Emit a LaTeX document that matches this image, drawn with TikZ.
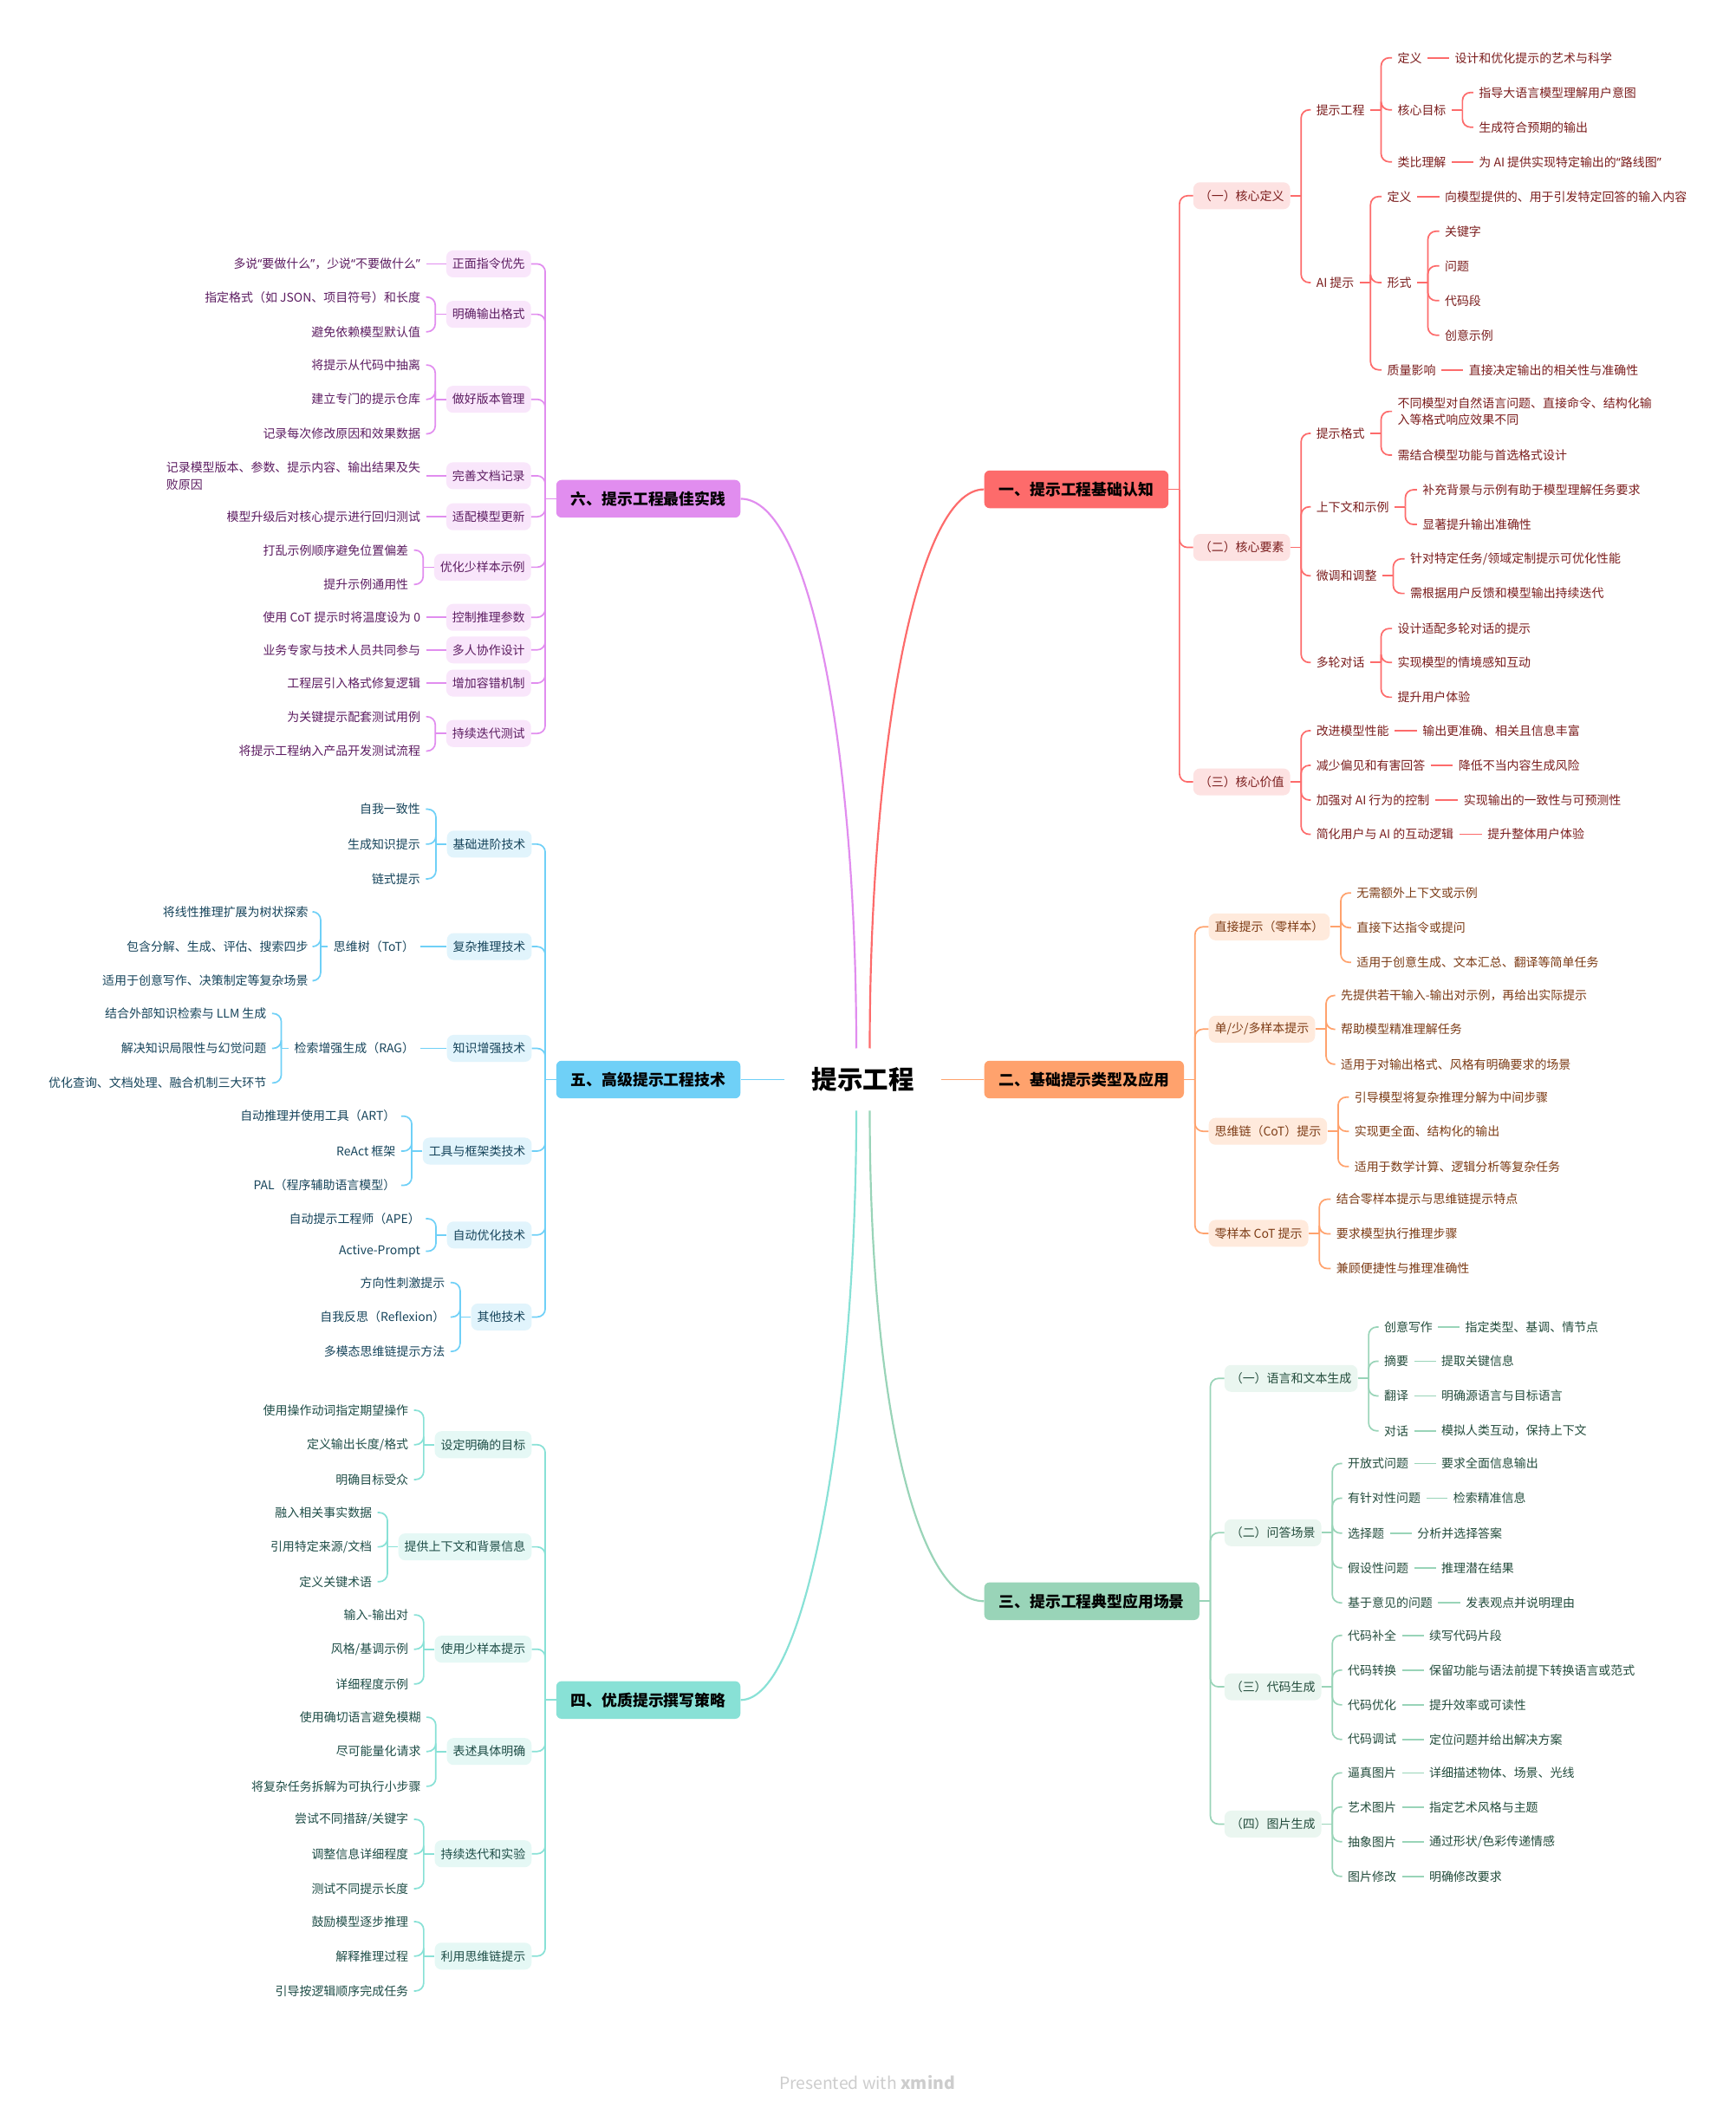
\documentclass[tikz,border=0pt]{standalone}
\usepackage{fontspec}
\setmainfont{Noto Sans CJK SC}
\newfontfamily\lat{Noto Sans}
\definecolor{c1}{HTML}{FD6B6B}\definecolor{c1l}{HTML}{FDE2E2}\definecolor{c1t}{HTML}{7B1D1D}
\definecolor{c2}{HTML}{FFA26D}\definecolor{c2l}{HTML}{FFEADC}\definecolor{c2t}{HTML}{7C3B15}
\definecolor{c3}{HTML}{99D4B8}\definecolor{c3l}{HTML}{EAF6F0}\definecolor{c3t}{HTML}{234C3C}
\definecolor{c4}{HTML}{88E1D6}\definecolor{c4l}{HTML}{E5F8F5}\definecolor{c4t}{HTML}{1E4D47}
\definecolor{c5}{HTML}{6FD0F7}\definecolor{c5l}{HTML}{E1F4FC}\definecolor{c5t}{HTML}{16445B}
\definecolor{c6}{HTML}{E18DEF}\definecolor{c6l}{HTML}{F9E6FB}\definecolor{c6t}{HTML}{5C1C61}
\definecolor{foot}{HTML}{CDCDCD}
\newcommand\fs{\fontsize{9}{11}\selectfont}
\newcommand\oq{{\lat “}}
\newcommand\cq{{\lat ”}}
\newcommand\kidsR[4][8]{%
  \draw[#2] (#3.east) -- ++(#1,0) coordinate (#3-sp);
  \foreach \kk in {#4}{\draw[#2,rounded corners=6pt] (#3-sp) |- (\kk.west);}}
\newcommand\kidsL[4][8]{%
  \draw[#2] (#3.west) -- ++(-#1,0) coordinate (#3-sp);
  \foreach \kk in {#4}{\draw[#2,rounded corners=6pt] (#3-sp) |- (\kk.east);}}
\newcommand\oneR[3]{\draw[#1] (#2.east) -- (#3.west);}
\newcommand\oneL[3]{\draw[#1] (#2.west) -- (#3.east);}
\begin{document}
\begin{tikzpicture}[x=1pt,y=-1pt,
  lf/.style={font=\fs, inner xsep=4pt, inner ysep=1.5pt},
  pr/.style={lf,anchor=west,xshift=-4pt},
  pl/.style={lf,anchor=east,xshift=4pt},
  l2/.style={font=\fs, rounded corners=5pt, inner xsep=4.5pt, inner ysep=0pt, minimum height=20pt},
  mb/.style={font=\fontsize{11.5}{13}\selectfont\bfseries, rounded corners=4pt, inner xsep=11pt, inner ysep=0pt, minimum height=28pt, text=black},
  two/.style={align=left, font=\fontsize{9}{12.7}\selectfont},
  t1/.style={text=c1t}, f1/.style={fill=c1l,text=c1t}, k1/.style={draw=c1,line width=1.1pt},
  t2/.style={text=c2t}, f2/.style={fill=c2l,text=c2t}, k2/.style={draw=c2,line width=1.1pt},
  t3/.style={text=c3t}, f3/.style={fill=c3l,text=c3t}, k3/.style={draw=c3,line width=1.1pt},
  t4/.style={text=c4t}, f4/.style={fill=c4l,text=c4t}, k4/.style={draw=c4,line width=1.1pt},
  t5/.style={text=c5t}, f5/.style={fill=c5l,text=c5t}, k5/.style={draw=c5,line width=1.1pt},
  t6/.style={text=c6t}, f6/.style={fill=c6l,text=c6t}, k6/.style={draw=c6,line width=1.1pt},
  main/.style={line width=1.4pt}]
\useasboundingbox[fill=white] (0,0) rectangle (1291,1568);

% ---------------- center and main branches
\node[font=\fontsize{19}{22}\selectfont\bfseries, minimum width=116pt, minimum height=46pt, inner sep=0pt] (root) at (642,803) {提示工程};
\node[mb,fill=c1,anchor=west] (b1) at (732,364) {一、提示工程基础认知};
\node[mb,fill=c2,anchor=west] (b2) at (732,803) {二、基础提示类型及应用};
\node[mb,fill=c3,anchor=west] (b3) at (732,1191) {三、提示工程典型应用场景};
\node[mb,fill=c4,anchor=east] (b4) at (551,1264.5) {四、优质提示撰写策略};
\node[mb,fill=c5,anchor=east] (b5) at (551,803) {五、高级提示工程技术};
\node[mb,fill=c6,anchor=east] (b6) at (551,371) {六、提示工程最佳实践};
\draw[main,c1] ([xshift=5pt]root.north) .. controls +(0,-220) and +(-51,0) .. (b1.west);
\draw[main,c6] ([xshift=-5pt]root.north) .. controls +(0,-220) and +(52,0) .. (b6.east);
\draw[main,c3] ([xshift=5pt]root.south) .. controls +(0,210) and +(-52,0) .. (b3.west);
\draw[main,c4] ([xshift=-5pt]root.south) .. controls +(0,225) and +(49,0) .. (b4.east);
\draw[main,c2,line width=1.1pt] (root.east) -- (b2.west);
\draw[main,c5,line width=1.1pt] (root.west) -- (b5.east);

% ---------------- branch 1
\node[l2,f1,anchor=west] (a1) at (887.5,145.6) {（一）核心定义};
\node[l2,f1,anchor=west] (a2) at (887.5,407.2) {（二）核心要素};
\node[l2,f1,anchor=west] (a3) at (887.5,581.6) {（三）核心价值};
\kidsR{k1}{b1}{a1,a2,a3}
\node[pr,t1] (a11) at (979,81.7) {提示工程};
\node[pr,t1] (a12) at (979,210.2) {AI 提示};
\kidsR{k1}{a1}{a11,a12}
\node[pr,t1] (a111) at (1039.5,43) {定义};
\node[pr,t1] (a112) at (1039.5,81.7) {核心目标};
\node[pr,t1] (a113) at (1039.5,120.4) {类比理解};
\kidsR{k1}{a11}{a111,a112,a113}
\node[pr,t1] (a1111) at (1082,43) {设计和优化提示的艺术与科学};
\oneR{k1}{a111}{a1111}
\node[pr,t1] (a1121) at (1100,68.8) {指导大语言模型理解用户意图};
\node[pr,t1] (a1122) at (1100,94.6) {生成符合预期的输出};
\kidsR{k1}{a112}{a1121,a1122}
\node[pr,t1] (a1131) at (1100,120.4) {为 AI 提供实现特定输出的\oq 路线图\cq};
\oneR{k1}{a113}{a1131}
\node[pr,t1] (a121) at (1031.8,146.2) {定义};
\node[pr,t1] (a122) at (1031.8,210.2) {形式};
\node[pr,t1] (a123) at (1031.8,275.1) {质量影响};
\kidsR{k1}{a12}{a121,a122,a123}
\node[pr,t1] (a1211) at (1074.6,146.2) {向模型提供的、用于引发特定回答的输入内容};
\oneR{k1}{a121}{a1211}
\node[pr,t1] (a1221) at (1074.6,172) {关键字};
\node[pr,t1] (a1222) at (1074.6,197.8) {问题};
\node[pr,t1] (a1223) at (1074.6,223.6) {代码段};
\node[pr,t1] (a1224) at (1074.6,249.3) {创意示例};
\kidsR{k1}{a122}{a1221,a1222,a1223,a1224}
\node[pr,t1] (a1231) at (1092.5,275.1) {直接决定输出的相关性与准确性};
\oneR{k1}{a123}{a1231}
\node[pr,t1] (a21) at (979,322.4) {提示格式};
\node[pr,t1] (a22) at (979,377) {上下文和示例};
\node[pr,t1] (a23) at (979,428.3) {微调和调整};
\node[pr,t1] (a24) at (979,492.8) {多轮对话};
\kidsR{k1}{a2}{a21,a22,a23,a24}
\node[pr,t1,two] (a211) at (1039.5,306) {不同模型对自然语言问题、直接命令、结构化输\\入等格式响应效果不同};
\node[pr,t1] (a212) at (1039.5,338.5) {需结合模型功能与首选格式设计};
\kidsR{k1}{a21}{a211,a212}
\node[pr,t1] (a221) at (1058,364.3) {补充背景与示例有助于模型理解任务要求};
\node[pr,t1] (a222) at (1058,390.1) {显著提升输出准确性};
\kidsR{k1}{a22}{a221,a222}
\node[pr,t1] (a231) at (1048.9,415.7) {针对特定任务/领域定制提示可优化性能};
\node[pr,t1] (a232) at (1048.9,441.4) {需根据用户反馈和模型输出持续迭代};
\kidsR{k1}{a23}{a231,a232}
\node[pr,t1] (a241) at (1039.5,467.5) {设计适配多轮对话的提示};
\node[pr,t1] (a242) at (1039.5,492.8) {实现模型的情境感知互动};
\node[pr,t1] (a243) at (1039.5,518.6) {提升用户体验};
\kidsR{k1}{a24}{a241,a242,a243}
\node[pr,t1] (a31) at (979,543.5) {改进模型性能};
\node[pr,t1] (a32) at (979,569.3) {减少偏见和有害回答};
\node[pr,t1] (a33) at (979,595.1) {加强对 AI 行为的控制};
\node[pr,t1] (a34) at (979,620.6) {简化用户与 AI 的互动逻辑};
\kidsR{k1}{a3}{a31,a32,a33,a34}
\node[pr,t1] (a311) at (1058,543.5) {输出更准确、相关且信息丰富};
\node[pr,t1] (a321) at (1084.8,569.3) {降低不当内容生成风险};
\node[pr,t1] (a331) at (1088.7,595.1) {实现输出的一致性与可预测性};
\node[pr,t1] (a341) at (1106.4,620.6) {提升整体用户体验};
\oneR{k1}{a31}{a311}\oneR{k1}{a32}{a321}\oneR{k1}{a33}{a331}\oneR{k1}{a34}{a341}

% ---------------- branch 2
\node[l2,f2,anchor=west] (d1) at (899,689.4) {直接提示（零样本）};
\node[l2,f2,anchor=west] (d2) at (899,765.5) {单/少/多样本提示};
\node[l2,f2,anchor=west] (d3) at (899,841.5) {思维链（CoT）提示};
\node[l2,f2,anchor=west] (d4) at (899,917.4) {零样本 CoT 提示};
\kidsR{k2}{b2}{d1,d2,d3,d4}
\node[pr,t2] (d11) at (1009,664.2) {无需额外上下文或示例};
\node[pr,t2] (d12) at (1009,690) {直接下达指令或提问};
\node[pr,t2] (d13) at (1009,715.8) {适用于创意生成、文本汇总、翻译等简单任务};
\kidsR{k2}{d1}{d11,d12,d13}
\node[pr,t2] (d21) at (997.3,740.5) {先提供若干输入-输出对示例，再给出实际提示};
\node[pr,t2] (d22) at (997.3,765.6) {帮助模型精准理解任务};
\node[pr,t2] (d23) at (997.3,791.6) {适用于对输出格式、风格有明确要求的场景};
\kidsR{k2}{d2}{d21,d22,d23}
\node[pr,t2] (d31) at (1007.4,816.1) {引导模型将复杂推理分解为中间步骤};
\node[pr,t2] (d32) at (1007.4,841.5) {实现更全面、结构化的输出};
\node[pr,t2] (d33) at (1007.4,867.7) {适用于数学计算、逻辑分析等复杂任务};
\kidsR{k2}{d3}{d31,d32,d33}
\node[pr,t2] (d41) at (993.9,892) {结合零样本提示与思维链提示特点};
\node[pr,t2] (d42) at (993.9,917.8) {要求模型执行推理步骤};
\node[pr,t2] (d43) at (993.9,943.6) {兼顾便捷性与推理准确性};
\kidsR{k2}{d4}{d41,d42,d43}

% ---------------- branch 3
\node[l2,f3,anchor=west] (g1) at (910.7,1025.3) {（一）语言和文本生成};
\node[l2,f3,anchor=west] (g2) at (910.7,1140.1) {（二）问答场景};
\node[l2,f3,anchor=west] (g3) at (910.7,1254.7) {（三）代码生成};
\node[l2,f3,anchor=west] (g4) at (910.7,1356.8) {（四）图片生成};
\kidsR{k3}{b3}{g1,g2,g3,g4}
\node[pr,t3] (g11) at (1029.5,987.1) {创意写作};
\node[pr,t3] (g12) at (1029.5,1012.5) {摘要};
\node[pr,t3] (g13) at (1029.5,1038.3) {翻译};
\node[pr,t3] (g14) at (1029.5,1064.3) {对话};
\kidsR{k3}{g1}{g11,g12,g13,g14}
\node[pr,t3] (g111) at (1089.8,987.1) {指定类型、基调、情节点};
\node[pr,t3] (g121) at (1072.1,1012.5) {提取关键信息};
\node[pr,t3] (g131) at (1072.1,1038.3) {明确源语言与目标语言};
\node[pr,t3] (g141) at (1072.1,1064.3) {模拟人类互动，保持上下文};
\oneR{k3}{g11}{g111}\oneR{k3}{g12}{g121}\oneR{k3}{g13}{g131}\oneR{k3}{g14}{g141}
\node[pr,t3] (g21) at (1002.5,1088.6) {开放式问题};
\node[pr,t3] (g22) at (1002.5,1114.4) {有针对性问题};
\node[pr,t3] (g23) at (1002.5,1140.4) {选择题};
\node[pr,t3] (g24) at (1002.5,1166.2) {假设性问题};
\node[pr,t3] (g25) at (1002.5,1192.2) {基于意见的问题};
\kidsR{k3}{g2}{g21,g22,g23,g24,g25}
\node[pr,t3] (g211) at (1072.1,1088.6) {要求全面信息输出};
\node[pr,t3] (g221) at (1080.9,1114.4) {检索精准信息};
\node[pr,t3] (g231) at (1054.2,1140.4) {分析并选择答案};
\node[pr,t3] (g241) at (1072.1,1166.2) {推理潜在结果};
\node[pr,t3] (g251) at (1090.3,1192.2) {发表观点并说明理由};
\oneR{k3}{g21}{g211}\oneR{k3}{g22}{g221}\oneR{k3}{g23}{g231}\oneR{k3}{g24}{g241}\oneR{k3}{g25}{g251}
\node[pr,t3] (g31) at (1002.5,1216.5) {代码补全};
\node[pr,t3] (g32) at (1002.5,1242.3) {代码转换};
\node[pr,t3] (g33) at (1002.5,1268.1) {代码优化};
\node[pr,t3] (g34) at (1002.5,1293.8) {代码调试};
\kidsR{k3}{g3}{g31,g32,g33,g34}
\node[pr,t3] (g311) at (1063,1216.5) {续写代码片段};
\node[pr,t3] (g321) at (1063,1242.3) {保留功能与语法前提下转换语言或范式};
\node[pr,t3] (g331) at (1063,1268.1) {提升效率或可读性};
\node[pr,t3] (g341) at (1063,1293.8) {定位问题并给出解决方案};
\oneR{k3}{g31}{g311}\oneR{k3}{g32}{g321}\oneR{k3}{g33}{g331}\oneR{k3}{g34}{g341}
\node[pr,t3] (g41) at (1002.5,1318.7) {逼真图片};
\node[pr,t3] (g42) at (1002.5,1344.1) {艺术图片};
\node[pr,t3] (g43) at (1002.5,1369.9) {抽象图片};
\node[pr,t3] (g44) at (1002.5,1395.7) {图片修改};
\kidsR{k3}{g4}{g41,g42,g43,g44}
\node[pr,t3] (g411) at (1063,1318.7) {详细描述物体、场景、光线};
\node[pr,t3] (g421) at (1063,1344.1) {指定艺术风格与主题};
\node[pr,t3] (g431) at (1063,1369.9) {通过形状/色彩传递情感};
\node[pr,t3] (g441) at (1063,1395.7) {明确修改要求};
\oneR{k3}{g41}{g411}\oneR{k3}{g42}{g421}\oneR{k3}{g43}{g431}\oneR{k3}{g44}{g441}

% ---------------- branch 6
\node[l2,f6,anchor=east] (f1) at (395.2,196.3) {正面指令优先};
\node[l2,f6,anchor=east] (f2) at (395.2,233.8) {明确输出格式};
\node[l2,f6,anchor=east] (f3) at (395.2,297) {做好版本管理};
\node[l2,f6,anchor=east] (f4) at (395.2,353.9) {完善文档记录};
\node[l2,f6,anchor=east] (f5) at (395.2,384.4) {适配模型更新};
\node[l2,f6,anchor=east] (f6) at (395.2,421.9) {优化少样本示例};
\node[l2,f6,anchor=east] (f7) at (395.2,459.2) {控制推理参数};
\node[l2,f6,anchor=east] (f8) at (395.2,483.4) {多人协作设计};
\node[l2,f6,anchor=east] (f9) at (395.2,508.1) {增加容错机制};
\node[l2,f6,anchor=east] (f10) at (395.2,545.6) {持续迭代测试};
\kidsL{k6}{b6}{f1,f2,f3,f4,f5,f6,f7,f8,f9,f10}
\node[pl,t6] (f11) at (312.9,196.3) {多说\oq 要做什么\cq，少说\oq 不要做什么\cq};
\oneL{k6}{f1}{f11}
\node[pl,t6] (f21) at (312.9,221) {指定格式（如 JSON、项目符号）和长度};
\node[pl,t6] (f22) at (312.9,246.8) {避免依赖模型默认值};
\kidsL{k6}{f2}{f21,f22}
\node[pl,t6] (f31) at (312.9,271.5) {将提示从代码中抽离};
\node[pl,t6] (f32) at (312.9,297) {建立专门的提示仓库};
\node[pl,t6] (f33) at (312.9,322.7) {记录每次修改原因和效果数据};
\kidsL{k6}{f3}{f31,f32,f33}
\node[pl,t6,two] (f41) at (312.9,353.9) {记录模型版本、参数、提示内容、输出结果及失\\败原因};
\oneL{k6}{f4}{f41}
\node[pl,t6] (f51) at (312.9,384.4) {模型升级后对核心提示进行回归测试};
\oneL{k6}{f5}{f51}
\node[pl,t6] (f61) at (304,409.2) {打乱示例顺序避免位置偏差};
\node[pl,t6] (f62) at (304,434.7) {提升示例通用性};
\kidsL{k6}{f6}{f61,f62}
\node[pl,t6] (f71) at (312.9,459.2) {使用 CoT 提示时将温度设为 0};
\oneL{k6}{f7}{f71}
\node[pl,t6] (f81) at (312.9,483.4) {业务专家与技术人员共同参与};
\oneL{k6}{f8}{f81}
\node[pl,t6] (f91) at (312.9,508.1) {工程层引入格式修复逻辑};
\oneL{k6}{f9}{f91}
\node[pl,t6] (f101) at (312.9,533.1) {为关键提示配套测试用例};
\node[pl,t6] (f102) at (312.9,558.6) {将提示工程纳入产品开发测试流程};
\kidsL{k6}{f10}{f101,f102}

% ---------------- branch 5
\node[l2,f5,anchor=east] (e1) at (395.7,627.9) {基础进阶技术};
\node[l2,f5,anchor=east] (e2) at (395.7,704.1) {复杂推理技术};
\node[l2,f5,anchor=east] (e3) at (395.7,779.8) {知识增强技术};
\node[l2,f5,anchor=east] (e4) at (395.7,856.2) {工具与框架类技术};
\node[l2,f5,anchor=east] (e5) at (395.7,918.6) {自动优化技术};
\node[l2,f5,anchor=east] (e6) at (395.7,979.6) {其他技术};
\kidsL{k5}{b5}{e1,e2,e3,e4,e5,e6}
\node[pl,t5] (e11) at (312.8,601.9) {自我一致性};
\node[pl,t5] (e12) at (312.8,627.9) {生成知识提示};
\node[pl,t5] (e13) at (312.8,653.7) {链式提示};
\kidsL{k5}{e1}{e11,e12,e13}
\node[pl,t5] (e21) at (308.4,704.1) {思维树（ToT）};
\oneL{k5}{e2}{e21}
\node[pl,t5] (e211) at (229.4,678.2) {将线性推理扩展为树状探索};
\node[pl,t5] (e212) at (229.4,704.1) {包含分解、生成、评估、搜索四步};
\node[pl,t5] (e213) at (229.4,729.5) {适用于创意写作、决策制定等复杂场景};
\kidsL[5.5]{k5}{e21}{e211,e212,e213}
\node[pl,t5] (e31) at (308.4,779.8) {检索增强生成（RAG）};
\oneL{k5}{e3}{e31}
\node[pl,t5] (e311) at (198.4,753.9) {结合外部知识检索与 LLM 生成};
\node[pl,t5] (e312) at (198.4,779.8) {解决知识局限性与幻觉问题};
\node[pl,t5] (e313) at (198.4,805.5) {优化查询、文档处理、融合机制三大环节};
\kidsL[5.5]{k5}{e31}{e311,e312,e313}
\node[pl,t5] (e41) at (294.4,830.2) {自动推理并使用工具（ART）};
\node[pl,t5] (e42) at (294.4,856.2) {ReAct 框架};
\node[pl,t5] (e43) at (294.4,881.7) {PAL（程序辅助语言模型）};
\kidsL{k5}{e4}{e41,e42,e43}
\node[pl,t5] (e51) at (312.8,906.5) {自动提示工程师（APE）};
\node[pl,t5] (e52) at (312.8,930.7) {Active-Prompt};
\kidsL{k5}{e5}{e51,e52}
\node[pl,t5] (e61) at (331.2,954) {方向性刺激提示};
\node[pl,t5] (e62) at (331.2,979.6) {自我反思（Reflexion）};
\node[pl,t5] (e63) at (331.2,1005.2) {多模态思维链提示方法};
\kidsL{k5}{e6}{e61,e62,e63}

% ---------------- branch 4
\node[l2,f4,anchor=east] (h1) at (395.6,1074.6) {设定明确的目标};
\node[l2,f4,anchor=east] (h2) at (395.6,1150.6) {提供上下文和背景信息};
\node[l2,f4,anchor=east] (h3) at (395.6,1226.7) {使用少样本提示};
\node[l2,f4,anchor=east] (h4) at (395.6,1302.8) {表述具体明确};
\node[l2,f4,anchor=east] (h5) at (395.6,1378.9) {持续迭代和实验};
\node[l2,f4,anchor=east] (h6) at (395.6,1455) {利用思维链提示};
\kidsL{k4}{b4}{h1,h2,h3,h4,h5,h6}
\node[pl,t4] (h11) at (304,1049) {使用操作动词指定期望操作};
\node[pl,t4] (h12) at (304,1074.6) {定义输出长度/格式};
\node[pl,t4] (h13) at (304,1100.5) {明确目标受众};
\kidsL{k4}{h1}{h11,h12,h13}
\node[pl,t4] (h21) at (276.9,1125.1) {融入相关事实数据};
\node[pl,t4] (h22) at (276.9,1150.6) {引用特定来源/文档};
\node[pl,t4] (h23) at (276.9,1176.5) {定义关键术语};
\kidsL{k4}{h2}{h21,h22,h23}
\node[pl,t4] (h31) at (304,1201.2) {输入-输出对};
\node[pl,t4] (h32) at (304,1226.7) {风格/基调示例};
\node[pl,t4] (h33) at (304,1252.6) {详细程度示例};
\kidsL{k4}{h3}{h31,h32,h33}
\node[pl,t4] (h41) at (313.2,1277.3) {使用确切语言避免模糊};
\node[pl,t4] (h42) at (313.2,1302.8) {尽可能量化请求};
\node[pl,t4] (h43) at (313.2,1328.7) {将复杂任务拆解为可执行小步骤};
\kidsL{k4}{h4}{h41,h42,h43}
\node[pl,t4] (h51) at (304,1353.3) {尝试不同措辞/关键字};
\node[pl,t4] (h52) at (304,1378.9) {调整信息详细程度};
\node[pl,t4] (h53) at (304,1404.8) {测试不同提示长度};
\kidsL{k4}{h5}{h51,h52,h53}
\node[pl,t4] (h61) at (304,1429.4) {鼓励模型逐步推理};
\node[pl,t4] (h62) at (304,1455) {解释推理过程};
\node[pl,t4] (h63) at (304,1480.9) {引导按逻辑顺序完成任务};
\kidsL{k4}{h6}{h61,h62,h63}

% ---------------- footer
\node[font=\fontsize{12.5}{14}\selectfont, text=foot] (ft) at (645,1549) {Presented with \textbf{xmind}};
\end{tikzpicture}
\end{document}
